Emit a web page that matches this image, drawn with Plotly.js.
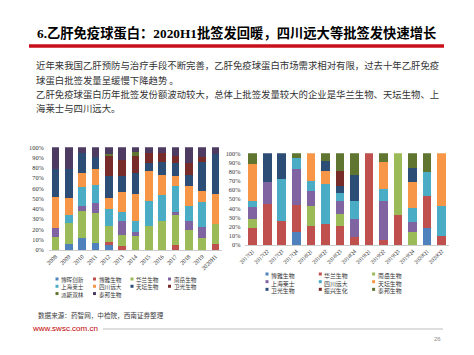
<!DOCTYPE html>
<html><head><meta charset="utf-8">
<script src="https://cdn.plot.ly/plotly-3.0.1.min.js"></script>
<style>html,body{margin:0;padding:0;background:#fff;}#c{width:474px;height:355px;}</style>
</head><body><div id="c"></div>
<script>
// ---------- DATA ----------
const years = ['2008','2009','2010','2011','2012','2013','2014','2015','2016','2017','2018','2019','2020H1'];
const leftNames = ['博晖创新','博雅生物','华兰生物','南岳生物','上海莱士','四川远大','天坛生物','卫光生物','派斯双林','泰邦生物'];
const L_bohui   = [0,6,12,7,4.5,0,0,0,0,0,0,0,0];
const L_boya    = [0,0,0,0,3,4,0,0,0,5,0,0,6];
const L_hualan  = [13,20,26,29,16,10.5,14,23.5,28,29,19.5,11.5,19.5];
const L_nanyue  = [8,0,5,10,0,13.5,3.5,0,0,3,9,11,0];
const L_laishi  = [0,8,18,17,16.5,9,10.5,24,25.5,25,14.5,24,0];
const L_yuanda  = [31,17,14,16,11,19,27,29,20,10,19.5,11,29];
const L_tiantan = [27,28,19,12,21,16.5,20,8,12.5,13,11,28.5,38.5];
const L_weiguang= [0,0,0,0,20,15.5,17,10,8,7,11.5,5,0];
const L_paisi   = [0,0,0,0,1.5,0,3.5,0,0,0,0,0,0];
const L_taibang = [21,21,6,9,6.5,12,4.5,5.5,6,8,15,9,7];
const leftSeries = [L_bohui,L_boya,L_hualan,L_nanyue,L_laishi,L_yuanda,L_tiantan,L_weiguang,L_paisi,L_taibang];

const quarters = ['2017Q1','2017Q2','2017Q3','2017Q4','2018Q1','2018Q2','2018Q3','2018Q4','2019Q1','2019Q2','2019Q3','2019Q4','2020Q1','2020Q2'];
const rightNames = ['博雅生物','华兰生物','南岳生物','上海莱士','四川远大','天坛生物','卫光生物','振兴生化','泰邦生物'];
const R_boya    = [0,0,0,14,0,0,0,0,0,0,0,0,18,0];
const R_hualan  = [18,45,26.5,30,21,23,21,9,100,6,33,0,35,10];
const R_nanyue  = [10,0,0,0,21,0,13,0,0,0,67,14.5,0,0];
const R_laishi  = [13.5,24,0,39,17,0,14,19,0,42,0,11,0,0];
const R_yuanda  = [6,0,46,11.5,11,44,8.5,20,0,13,0,14.5,26.5,32];
const R_tiantan = [40.5,0,0,0,30,14,0,0,0,29,0,28.5,0,58];
const R_weiguang= [0,31,27.5,0,0,11,8,28.5,0,0,0,15,0,0];
const R_zhenxing= [0,0,0,0,0,0,16.5,0,0,0,0,0,0,0];
const R_taibang = [12,0,0,5.5,0,8,19,23.5,0,10,0,16.5,20.5,0];
const rightSeries = [R_boya,R_hualan,R_nanyue,R_laishi,R_yuanda,R_tiantan,R_weiguang,R_zhenxing,R_taibang];

const yTickVals = [0,10,20,30,40,50,60,70,80,90,100];
const yTickText = ['0%','10%','20%','30%','40%','50%','60%','70%','80%','90%','100%'];

// ---------- STYLE ----------
const palette = ['#4F81BD','#C0504D','#9BBB59','#8064A2','#4BACC6','#F79646','#2C4D75','#772C2A','#5F7530','#4D3B62'];
const W = 474, H = 355;
const px = x => x / W;
const py = y => 1 - y / H;
const CJK = 'Noto Sans CJK SC';
const SERIF = 'Liberation Serif, Noto Sans CJK SC';

const traces = [];
leftSeries.forEach((s, i) => traces.push({
  type: 'bar', x: years, y: s, name: leftNames[i], xaxis: 'x', yaxis: 'y',
  marker: {color: palette[i], line: {width: 0}}, showlegend: false, hoverinfo: 'skip'
}));
rightSeries.forEach((s, i) => traces.push({
  type: 'bar', x: quarters, y: s, name: rightNames[i], xaxis: 'x2', yaxis: 'y2',
  marker: {color: palette[i], line: {width: 0}}, showlegend: false, hoverinfo: 'skip'
}));

const shapes = [];
const annotations = [];

// title + red rule
annotations.push({xref:'paper', yref:'paper', x: px(236), y: py(33), xanchor:'center', yanchor:'middle', showarrow:false,
  text:'<b>6.乙肝免疫球蛋白：2020H1批签发回暖，四川远大等批签发快速增长</b>', font:{family:SERIF, size:13.3, color:'#000'}});
shapes.push({type:'rect', xref:'paper', yref:'paper', x0:px(29), x1:px(444), y0:py(47.8), y1:py(44.3), fillcolor:'#C8101A', line:{width:0}});

// paragraph
const para = [
  ['近年来我国乙肝预防与治疗手段不断完善，乙肝免疫球蛋白市场需求相对有限，过去十年乙肝免疫', 65],
  ['球蛋白批签发量呈缓慢下降趋势 。', 79.5],
  ['乙肝免疫球蛋白历年批签发份额波动较大，总体上批签发量较大的企业是华兰生物、天坛生物、上', 94],
  ['海莱士与四川远大。', 108]
];
para.forEach(p => annotations.push({xref:'paper', yref:'paper', x: px(33.5), y: py(p[1]), xanchor:'left', yanchor:'middle', showarrow:false,
  text:p[0], font:{family:CJK, size:9.4, color:'#333'}}));

// chart title boxes
function rrect(x0, y0, x1, y1, r) {
  const X0=px(x0), X1=px(x1), Y0=py(y0), Y1=py(y1), rx=r/W, ry=r/H;
  return `M ${X0+rx},${Y0} L ${X1-rx},${Y0} Q ${X1},${Y0} ${X1},${Y0-ry} L ${X1},${Y1+ry} Q ${X1},${Y1} ${X1-rx},${Y1} L ${X0+rx},${Y1} Q ${X0},${Y1} ${X0},${Y1+ry} L ${X0},${Y0-ry} Q ${X0},${Y0} ${X0+rx},${Y0} Z`;
}
shapes.push({type:'path', xref:'paper', yref:'paper', path: rrect(31.5,121.5,220,136), fillcolor:'#AC2A2D', line:{color:'#8E1E22', width:0.8}});
shapes.push({type:'path', xref:'paper', yref:'paper', path: rrect(238,121.5,443.5,136), fillcolor:'#AC2A2D', line:{color:'#8E1E22', width:0.8}});
annotations.push({xref:'paper', yref:'paper', x: px(126), y: py(129), xanchor:'center', yanchor:'middle', showarrow:false,
  text:'乙肝免疫球蛋白历年批签发份额占比', font:{family:CJK, size:7.4, color:'#fff'}});
annotations.push({xref:'paper', yref:'paper', x: px(341), y: py(129), xanchor:'center', yanchor:'middle', showarrow:false,
  text:'乙肝免疫球蛋白过去三年分季度批签发份额占比', font:{family:CJK, size:7.5, color:'#fff'}});

// manual legends: one multi-line annotation per column, squares aligned to lines
function legendBlock(names, ncol, x0, dx, yTop, fs) {
  const lh = fs * 1.3;
  for (let c = 0; c < ncol; c++) {
    const idx = names.map((n, i) => i).filter(i => i % ncol === c);
    if (!idx.length) continue;
    const x = x0 + c * dx;
    idx.forEach((i, r) => {
      const y = yTop + r * lh;
      shapes.push({type:'rect', xref:'paper', yref:'paper', x0:px(x-1.5), x1:px(x+1.5), y0:py(y+1.5), y1:py(y-1.5), fillcolor:palette[i], line:{width:0}});
    });
    annotations.push({xref:'paper', yref:'paper', x:px(x+3), y:py(yTop - lh/2), xanchor:'left', yanchor:'top', showarrow:false,
      align:'left', borderpad:0, text: idx.map(i => names[i]).join('<br>'), font:{family:CJK, size:fs, color:'#333'}});
  }
}
legendBlock(leftNames, 4, 57, 37.5, 279, 5.6);
legendBlock(rightNames, 3, 267, 53.3, 274, 5.9);

// source
annotations.push({xref:'paper', yref:'paper', x: px(36), y: py(315), xanchor:'left', yanchor:'middle', showarrow:false,
  text:'数据来源：药智网，中检院，西南证券整理', font:{family:CJK, size:6.6, color:'#404040'}});

// footer
annotations.push({xref:'paper', yref:'paper', x: px(29.5), y: py(328.5), xanchor:'left', yanchor:'middle', showarrow:false,
  text:'www.swsc.com.cn', font:{family:'Liberation Sans, Arial', size:8, color:'#C00000'}});
shapes.push({type:'line', xref:'paper', yref:'paper', x0:px(103), x1:px(443), y0:py(329), y1:py(329), line:{color:'#BFBFBF', width:1}});
annotations.push({xref:'paper', yref:'paper', x: px(443), y: py(338.5), xanchor:'right', yanchor:'middle', showarrow:false,
  text:'26', font:{family:'Liberation Sans, Arial', size:6, color:'#888'}});

const tickF = {family: SERIF, size: 6.3, color: '#333'};
const layout = {
  width: W, height: H, margin: {l:0, r:0, t:0, b:0, pad:0},
  paper_bgcolor: '#fff', plot_bgcolor: 'rgba(0,0,0,0)',
  barmode: 'stack', bargap: 0.41, showlegend: false,
  xaxis: {domain:[px(48.8), px(222.2)], anchor:'y', type:'category', tickangle:-45, tickfont:{family:SERIF, size:6, color:'#333'},
    showgrid:false, zeroline:false, showline:true, linecolor:'#BFBFBF', linewidth:0.8, ticks:'', fixedrange:true},
  yaxis: {domain:[py(250), py(147.3)], anchor:'x', range:[0,100], tickmode:'array', tickvals:yTickVals, ticktext:yTickText, tickfont:tickF,
    showgrid:false, zeroline:false, showline:false, ticks:'', ticklabelstandoff:4, fixedrange:true},
  xaxis2: {domain:[px(245.4), px(449)], anchor:'y2', type:'category', tickangle:-45, tickfont:{family:SERIF, size:5.6, color:'#333'},
    showgrid:false, zeroline:false, showline:true, linecolor:'#BFBFBF', linewidth:0.8, ticks:'', fixedrange:true},
  yaxis2: {domain:[py(245), py(153.3)], anchor:'x2', range:[0,100], tickmode:'array', tickvals:yTickVals, ticktext:yTickText, tickfont:tickF,
    showgrid:false, zeroline:false, showline:false, ticks:'', ticklabelstandoff:4, fixedrange:true},
  shapes: shapes, annotations: annotations
};
Plotly.newPlot('c', traces, layout, {staticPlot:true, displayModeBar:false});
</script></body></html>
